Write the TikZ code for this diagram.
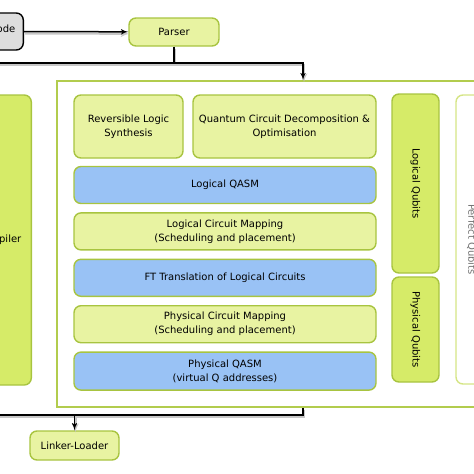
\documentclass[tikz,border=0pt]{standalone}
\usepackage{fontspec}
\setmainfont{DejaVu Sans}
\usepackage{tikz}
\usetikzlibrary{arrows,positioning}
\definecolor{limefill}{RGB}{232,243,162}
\definecolor{limedeep}{RGB}{214,235,104}
\definecolor{limeline}{RGB}{168,196,64}
\definecolor{coreline}{RGB}{178,204,78}
\definecolor{qasmblue}{RGB}{153,194,245}

\begin{document}
\begin{tikzpicture}[
    x=1pt, y=-1pt,
    node distance=8pt,
    >=latex',
    font=\fontsize{10}{14}\selectfont,
    block/.style={
		rectangle,
		rounded corners=7pt,
		draw=limeline,
		line width=1.4pt,
		fill=limefill,
		align=center,
		inner sep=0pt
	},
	qasm/.style={
		block,
		fill=qasmblue
	},
	wire/.style={
		line width=1.5pt,
		preaction={draw=black!22, line width=2pt, transform canvas={shift={(1pt,-2pt)}}}
	}
  ]
  \useasboundingbox (0,0) rectangle (474,474);
  \clip (0,0) rectangle (474,474);

    % front end
  \node [block, fill=black!13, draw=black, anchor=east, minimum width=94pt, minimum height=37pt,
         text width=78pt, align=right] (source) at (24,31.5) {\raisebox{5pt}{ode}};
  \node [block, minimum width=90pt, minimum height=28pt] (parser) at (174,32) {Parser};

  \node [block, fill=limedeep, anchor=east, minimum width=92pt, minimum height=290pt,
         text width=72pt, align=right] (compiler) at (32,240) {piler};

    % compiler core
  \node [draw=coreline, line width=1.6pt, rectangle, inner sep=0pt,
         minimum width=483pt, minimum height=326pt] (core) at (298.5,244) {};

  \node [block, minimum width=109pt, minimum height=63pt] (revsyn) at (128.5,126.5)
 {Reversible Logic\\Synthesis};
  \node [block, minimum width=183pt, minimum height=63pt] (decomp) at (284.5,126.5)
 {Quantum Circuit Decomposition \&\\Optimisation};

  \node [qasm, minimum width=302pt, minimum height=37pt] (lqasm) at (225,185) {Logical QASM};
  \node [block, minimum width=302pt, minimum height=37pt, below=of lqasm] (lmap)
 {Logical Circuit Mapping\\(Scheduling and placement)};
  \node [qasm, minimum width=302pt, minimum height=37pt, below=of lmap] (ftrans)
 {FT Translation of Logical Circuits};
  \node [block, minimum width=302pt, minimum height=37pt, below=of ftrans] (pmap)
 {Physical Circuit Mapping\\(Scheduling and placement)};
  \node [qasm, minimum width=302pt, minimum height=38pt, below=of pmap] (pqasm)
 {Physical QASM\\(virtual Q addresses)};

    % qubit columns
  \node [block, fill=limedeep, rotate=-90, minimum width=179pt, minimum height=47pt] (logq)
        at (415.5,183.5) {Logical Qubits};
  \node [block, fill=limedeep, rotate=-90, minimum width=105pt, minimum height=47pt] (physq)
        at (415.5,329.5) {Physical Qubits};
  \node [block, fill=white, draw=limefill!70!limeline, text=black!55, rotate=-90,
         minimum width=289pt, minimum height=31pt] (perfect) at (471.5,239.5) {Perfect Qubits};

  \node [block, minimum width=89pt, minimum height=29pt] (linker) at (74.5,445.5) {Linker-Loader};

    % connectors
  \coordinate (topL) at (-5,63);
  \coordinate (topR) at (303,63);
  \coordinate (botL) at (-5,415);
  \coordinate (botR) at (303,415);

  \draw [wire,->] (source.east) -- (parser);
  \draw [wire] (parser) -- (parser |- topR);
  \draw [wire,->] (topL) -- (topR) -- (topR |- core.north);
  \draw [wire] (core.south -| botR) -- (botR) -- (botL);
  \draw [wire,->] (linker |- botR) -- (linker);

\end{tikzpicture}
\end{document}
